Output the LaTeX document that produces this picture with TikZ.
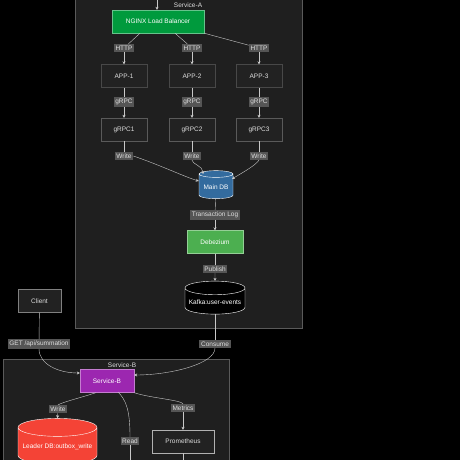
\documentclass[tikz,border=0pt]{standalone}
\usepackage{fontspec}
\setmainfont{Liberation Sans}
\usetikzlibrary{arrows.meta,shapes.geometric}
\definecolor{clusterbg}{HTML}{1F1F1F}
\definecolor{clusterline}{HTML}{5A5A5A}
\definecolor{lblbg}{HTML}{555555}
\definecolor{lbltxt}{HTML}{DDDDDD}
\definecolor{edgecol}{HTML}{C8C8C8}
\definecolor{boxbg}{HTML}{222222}
\definecolor{nginxgreen}{HTML}{009A3D}
\definecolor{debgreen}{HTML}{4CAF50}
\definecolor{dbblue}{HTML}{336B9E}
\definecolor{svcpurple}{HTML}{9C27B0}
\definecolor{leaderred}{HTML}{F44336}
\begin{document}
\begin{tikzpicture}[x=1pt,y=-1pt,font=\fontsize{6.5}{7.5}\selectfont,
  lbl/.style={fill=lblbg,text=lbltxt,inner sep=1.6pt},
  box/.style={draw=#1,fill=boxbg,text=lbltxt,minimum width=46pt,minimum height=23pt,inner sep=1pt},
  filled/.style={draw=#1!60!white,fill=#1,text=white,minimum height=23pt,inner sep=1pt},
  db/.style={cylinder,shape border rotate=90,aspect=0.25,draw=white,fill=#1,text=white,inner sep=1pt},
  edge/.style={draw=edgecol,line width=0.4pt},
  arr/.style={edge,-{Stealth[length=3pt,width=3pt]}},
  title/.style={text=lbltxt}]
\useasboundingbox (0,0) rectangle (460,460);
\fill[black] (0,0) rectangle (460,460);
\clip (0,0) rectangle (460,460);

% clusters
\draw[clusterline,fill=clusterbg] (75,-2) rectangle (302,328);
\node[title] (ta) at (188,5) {Service-A};
\draw[clusterline,fill=clusterbg] (3,359) rectangle (229,470);
\node[title] (tb) at (122,365) {Service-B};

% Service-A
\coordinate (in) at (157,-6);
\node[filled=nginxgreen,minimum width=92pt] (nginx) at (158,21.5) {NGINX Load Balancer};
\node[lbl] (h1) at (124,48) {HTTP};
\node[lbl] (h2) at (192,48) {HTTP};
\node[lbl] (h3) at (259,48) {HTTP};
\node[box=clusterline!70!clusterbg] (app1) at (124,76) {APP-1};
\node[box=clusterline!70!clusterbg] (app2) at (192,76) {APP-2};
\node[box=clusterline!70!clusterbg] (app3) at (259,76) {APP-3};
\node[lbl] (g1) at (124,102) {gRPC};
\node[lbl] (g2) at (192,102) {gRPC};
\node[lbl] (g3) at (259,102) {gRPC};
\node[box=clusterline] (rpc1) at (124,129.5) {gRPC1};
\node[box=clusterline] (rpc2) at (192,129.5) {gRPC2};
\node[box=clusterline] (rpc3) at (259,129.5) {gRPC3};
\node[lbl] (w1) at (124,156) {Write};
\node[lbl] (w2) at (192,156) {Write};
\node[lbl] (w3) at (259,156) {Write};
\node[db=dbblue,minimum width=34pt,minimum height=28pt] (maindb) at (216,187) {Main DB};
\node[lbl] (tlog) at (215,215) {Transaction Log};
\node[filled=debgreen,minimum width=56pt] (deb) at (215,242) {Debezium};
\node[lbl] (pub) at (215,269) {Publish};
\node[db=black,minimum width=60pt,minimum height=33pt] (kafka) at (215,302) {Kafka:user-events};

% outside
\node[box=gray,minimum width=43pt] (client) at (39.5,301) {Client};
\node[lbl] (get) at (39,344) {GET /api/summation};
\node[lbl] (cons) at (215,344) {Consume};

% Service-B
\node[filled=svcpurple,minimum width=54pt] (svcb) at (107,381) {Service-B};
\node[lbl] (wb) at (58,409) {Write};
\node[lbl] (rd) at (130,441) {Read};
\node[lbl] (met) at (183,408) {Metrics};
\node[db=leaderred,minimum width=79pt,minimum height=46pt] (leader) at (57.5,447) {Leader DB:outbox\_write};
\node[box=lbltxt!80!black,minimum width=62pt] (prom) at (183,441.5) {Prometheus};
\coordinate (rdend) at (130,470);
\coordinate (promend) at (183,470);

% edges Service-A
\draw[arr] (in) -- (nginx.north -| in);
\draw[edge] (nginx.south -| 140,0) -- (h1);
\draw[edge] (nginx.south -| 175,0) -- (h2);
\draw[edge] (nginx.south east) -- (h3);
\draw[arr] (h1) -- (app1);
\draw[arr] (h2) -- (app2);
\draw[arr] (h3) -- (app3);
\draw[edge] (app1) -- (g1);
\draw[edge] (app2) -- (g2);
\draw[edge] (app3) -- (g3);
\draw[arr] (g1) -- (rpc1);
\draw[arr] (g2) -- (rpc2);
\draw[arr] (g3) -- (rpc3);
\draw[edge] (rpc1) -- (w1);
\draw[edge] (rpc2) -- (w2);
\draw[edge] (rpc3) -- (w3);
\draw[arr] (w1.east) .. controls (160,165) and (185,177) .. (maindb.west |- 0,181);
\draw[arr] (w2.south) .. controls (192,164) and (203,166) .. (203,174);
\draw[arr] (w3.south) .. controls (255,166) and (240,174) .. (232,179);
\draw[edge] (maindb) -- (tlog);
\draw[arr] (tlog) -- (deb);
\draw[edge] (deb) -- (pub);
\draw[arr] (pub) -- (kafka.north);

% edges between clusters
\draw[edge] (client) -- (get);
\draw[edge] (kafka) -- (cons);
\draw[arr] (get.south) .. controls (39,364) and (58,373) .. (svcb.west |- 0,373);
\draw[arr] (cons.south) .. controls (215,364) and (170,375) .. (svcb.east |- 0,375);

% edges Service-B
\draw[edge] (svcb.south west) ++(16,0) .. controls (80,398) and (66,401) .. (wb.north);
\draw[arr] (wb) -- (leader.north);
\draw[edge] (118,392) .. controls (126,400) and (130,410) .. (rd.north);
\draw[edge] (rd) -- (rdend);
\draw[edge] (svcb.south east) .. controls (150,398) and (181,400) .. (met.north);
\draw[arr] (met) -- (prom);
\draw[edge] (prom) -- (promend);
\end{tikzpicture}
\end{document}
